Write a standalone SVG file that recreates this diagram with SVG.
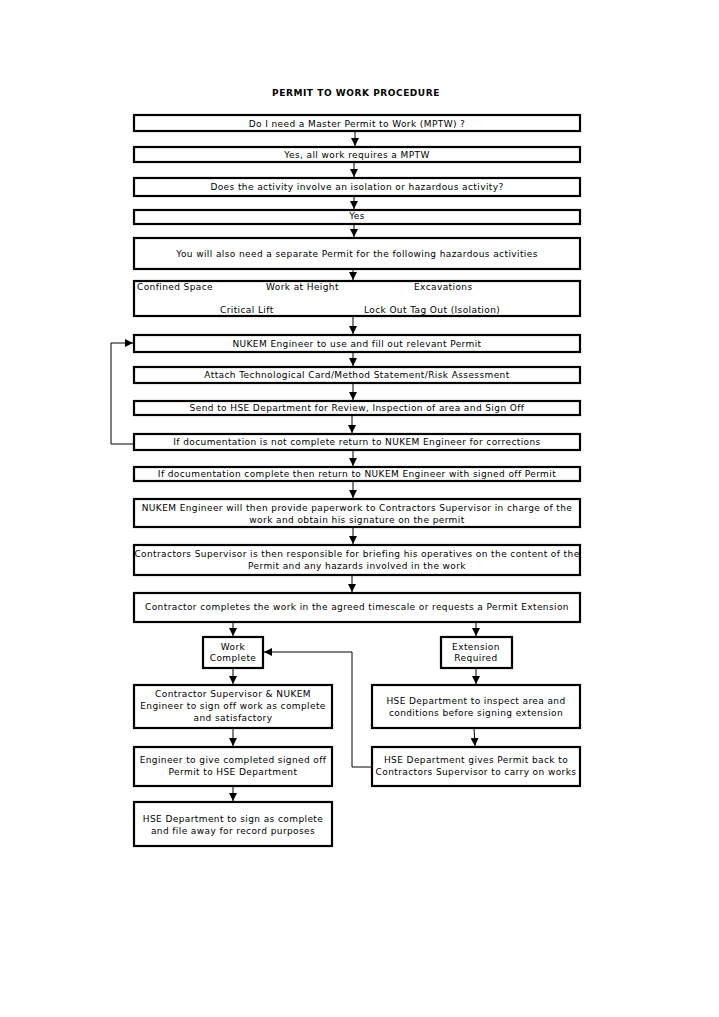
<svg xmlns="http://www.w3.org/2000/svg" width="719" height="1017" viewBox="0 0 719 1017">
<style>
.b{fill:#fff;stroke:#000;stroke-width:2.2}
.t{font-family:"DejaVu Sans",Verdana,sans-serif;font-size:9px;letter-spacing:0.4px;fill:#000;text-anchor:middle}
.s{text-anchor:start}
.c{fill:none;stroke:#000;stroke-width:1}
.h{font-family:"DejaVu Sans",Verdana,sans-serif;font-size:9px;letter-spacing:0.55px;font-weight:bold;text-anchor:middle}
</style>
<defs>
<marker id="a" viewBox="0 0 8 8" refX="8" refY="4" markerWidth="8" markerHeight="8" markerUnits="userSpaceOnUse" orient="auto">
<path d="M0,0 L8,4 L0,8 z" fill="#000"/>
</marker>
</defs>
<rect width="719" height="1017" fill="#fff"/>
<text class="h" x="356" y="96">PERMIT TO WORK PROCEDURE</text>
<g id="connectors">
<line class="c" x1="355" y1="131" x2="355" y2="146" marker-end="url(#a)"/>
<line class="c" x1="354" y1="162" x2="354" y2="177" marker-end="url(#a)"/>
<line class="c" x1="354" y1="196" x2="354" y2="209" marker-end="url(#a)"/>
<line class="c" x1="354" y1="224" x2="354" y2="237" marker-end="url(#a)"/>
<line class="c" x1="353" y1="269" x2="353" y2="280" marker-end="url(#a)"/>
<line class="c" x1="353" y1="316" x2="353" y2="334" marker-end="url(#a)"/>
<line class="c" x1="353" y1="352" x2="353" y2="366" marker-end="url(#a)"/>
<line class="c" x1="353" y1="383" x2="353" y2="400" marker-end="url(#a)"/>
<line class="c" x1="352" y1="415" x2="352" y2="433" marker-end="url(#a)"/>
<line class="c" x1="353" y1="450" x2="353" y2="466" marker-end="url(#a)"/>
<line class="c" x1="353" y1="481" x2="353" y2="498" marker-end="url(#a)"/>
<line class="c" x1="353" y1="527" x2="353" y2="544" marker-end="url(#a)"/>
<line class="c" x1="352" y1="575" x2="352" y2="592" marker-end="url(#a)"/>
<polyline class="c" points="134,444 111,444 111,343 133,343" marker-end="url(#a)"/>
<line class="c" x1="233" y1="622" x2="233" y2="636" marker-end="url(#a)"/>
<line class="c" x1="476" y1="622" x2="476" y2="636" marker-end="url(#a)"/>
<line class="c" x1="233" y1="668" x2="233" y2="684" marker-end="url(#a)"/>
<line class="c" x1="476" y1="668" x2="476" y2="684" marker-end="url(#a)"/>
<line class="c" x1="233" y1="728" x2="233" y2="746" marker-end="url(#a)"/>
<line class="c" x1="474" y1="728" x2="475" y2="746" marker-end="url(#a)"/>
<line class="c" x1="233" y1="786" x2="233" y2="801" marker-end="url(#a)"/>
<polyline class="c" points="372,767 352,767 352,652 264,652" marker-end="url(#a)"/>
</g>
<g id="n1"><rect class="b" x="134" y="115" width="446" height="16"/><text class="t" x="357" y="126.5">Do I need a Master Permit to Work (MPTW) ?</text></g>
<g id="n2"><rect class="b" x="134" y="147" width="446" height="15"/><text class="t" x="357" y="158">Yes, all work requires a MPTW</text></g>
<g id="n3"><rect class="b" x="134" y="178" width="446" height="18"/><text class="t" x="357" y="190">Does the activity involve an isolation or hazardous activity?</text></g>
<g id="n4"><rect class="b" x="134" y="210" width="446" height="14"/><text class="t" x="357" y="219">Yes</text></g>
<g id="n5"><rect class="b" x="134" y="238" width="446" height="31"/><text class="t" x="357" y="257">You will also need a separate Permit  for the following hazardous activities</text></g>
<g id="n6"><rect class="b" x="134" y="281" width="446" height="35"/>
<text class="t s" x="137" y="290">Confined Space</text>
<text class="t s" x="266" y="290">Work at Height</text>
<text class="t s" x="414" y="290">Excavations</text>
<text class="t s" x="220" y="313">Critical Lift</text>
<text class="t s" x="364" y="313">Lock Out Tag Out (Isolation)</text></g>
<g id="n7"><rect class="b" x="134" y="335" width="446" height="17"/><text class="t" x="357" y="346.5">NUKEM Engineer to use and fill out relevant Permit</text></g>
<g id="n8"><rect class="b" x="134" y="367" width="446" height="16"/><text class="t" x="357" y="378">Attach Technological Card/Method Statement/Risk Assessment</text></g>
<g id="n9"><rect class="b" x="134" y="401" width="446" height="14"/><text class="t" x="357" y="411">Send to HSE Department for Review, Inspection of area and Sign Off</text></g>
<g id="n10"><rect class="b" x="134" y="434" width="446" height="16"/><text class="t" x="357" y="445">If documentation is not complete return to NUKEM Engineer for corrections</text></g>
<g id="n11"><rect class="b" x="134" y="467" width="446" height="14"/><text class="t" x="357" y="477">If documentation complete then return to NUKEM Engineer with signed off Permit</text></g>
<g id="n12"><rect class="b" x="134" y="499" width="446" height="28"/><text class="t" x="357" y="511">NUKEM Engineer will then provide paperwork to Contractors Supervisor in charge of the</text><text class="t" x="357" y="523">work and obtain his signature on the permit</text></g>
<g id="n13"><rect class="b" x="134" y="545" width="446" height="30"/><text class="t" x="357" y="557">Contractors Supervisor is then responsible for briefing his operatives on the content of the</text><text class="t" x="357" y="569">Permit and any hazards involved in the work</text></g>
<g id="n14"><rect class="b" x="134" y="593" width="446" height="29"/><text class="t" x="357" y="610">Contractor completes the work in the agreed timescale or requests a Permit Extension</text></g>
<g id="n15"><rect class="b" x="203" y="637" width="60" height="31"/><text class="t" x="233" y="650">Work</text><text class="t" x="233" y="661">Complete</text></g>
<g id="n16"><rect class="b" x="441" y="637" width="71" height="31"/><text class="t" x="476" y="650">Extension</text><text class="t" x="476" y="661">Required</text></g>
<g id="n17"><rect class="b" x="134" y="685" width="198" height="43"/><text class="t" x="233" y="697">Contractor Supervisor &amp; NUKEM</text><text class="t" x="233" y="709">Engineer to sign off work as complete</text><text class="t" x="233" y="721">and satisfactory</text></g>
<g id="n18"><rect class="b" x="372" y="685" width="208" height="43"/><text class="t" x="476" y="704">HSE Department to inspect area and</text><text class="t" x="476" y="716">conditions before signing extension</text></g>
<g id="n19"><rect class="b" x="134" y="747" width="198" height="39"/><text class="t" x="233" y="763">Engineer to give completed signed off</text><text class="t" x="233" y="775">Permit to HSE Department</text></g>
<g id="n20"><rect class="b" x="372" y="747" width="208" height="39"/><text class="t" x="476" y="763">HSE Department gives Permit back to</text><text class="t" x="476" y="775">Contractors Supervisor to carry on works</text></g>
<g id="n21"><rect class="b" x="134" y="802" width="198" height="44"/><text class="t" x="233" y="822">HSE Department to sign as complete</text><text class="t" x="233" y="834">and file away for record purposes</text></g>
</svg>
